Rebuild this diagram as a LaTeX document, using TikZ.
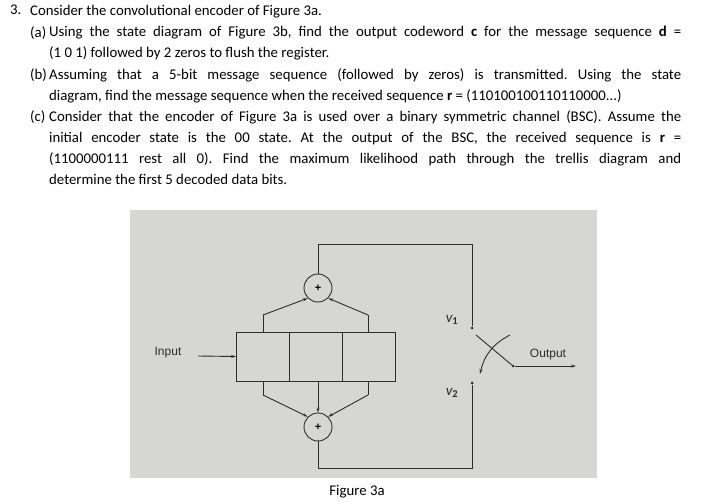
\documentclass[tikz,border=0pt]{standalone}
\usepackage{fontspec}
\setmainfont{Carlito}
\newfontfamily\figfont{Liberation Sans}
\usetikzlibrary{arrows.meta}
\definecolor{photo}{RGB}{214,214,212}
\definecolor{ink}{RGB}{45,45,45}
\frenchspacing
\begin{document}
\begin{tikzpicture}[x=1pt,y=-1pt,
  txt/.style={anchor=north west,inner sep=0pt,text width=632pt,align=justify,font=\fontsize{14.8}{21}\selectfont},
  wire/.style={draw=ink,line width=0.9pt},
  arr/.style={wire,-{Stealth[length=5pt,width=3pt]}},
  adder/.style={circle,draw=ink,line width=0.9pt,minimum size=28pt,inner sep=0pt,font=\figfont\fontsize{11}{11}\selectfont\bfseries},
  reg/.style={draw=ink,line width=1pt,minimum width=53pt,minimum height=49pt,inner sep=0pt},
  lab/.style={font=\figfont\fontsize{12}{12}\selectfont,text=ink,inner sep=0pt},
  vlab/.style={font=\fontsize{15}{15}\selectfont,text=ink,inner sep=0pt},
  dot/.style={circle,fill=ink,inner sep=0pt,minimum size=3pt},
  num/.style={inner sep=0pt,anchor=north west,font=\fontsize{14.8}{21}\selectfont}]
\useasboundingbox (0,0) rectangle (711,502);
\fill[white] (0,0) rectangle (711,502);
\node[num] (n3) at (10,5) {3.};
\node[txt,text width=640pt] (q0) at (30,5) {Consider the convolutional encoder of Figure 3a.};
\node[num] (la) at (30,26) {(a)};
\node[txt] (qa) at (49,26) {Using the state diagram of Figure 3b, find the output codeword \textbf{c} for the message sequence \textbf{d} =\linebreak (1 0 1) followed by 2 zeros to flush the register.};
\node[num] (lb) at (30,68) {(b)};
\node[txt] (qb) at (49,68) {Assuming that a 5-bit message sequence (followed by zeros) is transmitted. Using the state\linebreak diagram, find the message sequence when the received sequence \textbf{r} = (110100100110110000...)};
\node[num] (lc) at (30,110) {(c)};
\node[txt] (qc) at (49,110) {Consider that the encoder of Figure 3a is used over a binary symmetric channel (BSC). Assume the\linebreak initial encoder state is the 00 state. At the output of the BSC, the received sequence is \textbf{r} =\linebreak (1100000111 rest all 0). Find the maximum likelihood path through the trellis diagram and\linebreak determine the first 5 decoded data bits.};
% photo
\fill[photo] (130,210) rectangle (597,478);
\node[reg] (r1) at (263,356.5) {};
\node[reg] (r2) at (315.5,356.5) {};
\node[reg] (r3) at (369,356.5) {};
\node[adder] (ta) at (318,288) {+};
\node[adder] (ba) at (318,427) {+};
\node[lab] (inp) at (168,353) {Input};
\coordinate (inS) at (198,356);
\draw[arr] (inS) -- (r1.west);
% top taps
\coordinate (t1) at (263,315); \coordinate (t3) at (368,315);
\draw[wire] (263,332) -- (t1);
\draw[arr] (t1) -- (ta.south west);
\draw[wire] (368,332) -- (t3);
\draw[arr] (t3) -- (ta.south east);
% bottom taps
\coordinate (b1) at (263,395); \coordinate (b3) at (368,395);
\draw[wire] (263,381) -- (b1);
\draw[arr] (b1) -- (ba.north west);
\draw[wire] (368,381) -- (b3);
\draw[arr] (b3) -- (ba.north east);
\draw[arr] (318,381) -- (ba.north);
% output wires
\node[dot] (v1d) at (472,328) {};
\node[dot] (v2d) at (472,383) {};
\draw[wire] (ta.north) |- (472,244) -- (v1d);
\draw[wire] (ba.south) |- (472,468) -- (v2d);
\node[vlab] (v1) at (452,320) {$\mathbf{\mathit{v}_1}$};
\node[vlab] (v2) at (452,393) {$\mathbf{\mathit{v}_2}$};
% switch
\node[dot] (piv) at (513,366) {};
\coordinate (arm) at (476,335);
\draw[wire] (arm) -- (piv);
\coordinate (outE) at (576,366);
\draw[arr] (piv) -- (outE);
\node[lab,anchor=south] (outl) at (548,360) {Output};
\draw[arr] (510,335) to[bend right=25] (480,374);
\node[inner sep=0pt,font=\fontsize{14.8}{16}\selectfont] (cap) at (357,492) {Figure 3a};
\end{tikzpicture}
\end{document}
